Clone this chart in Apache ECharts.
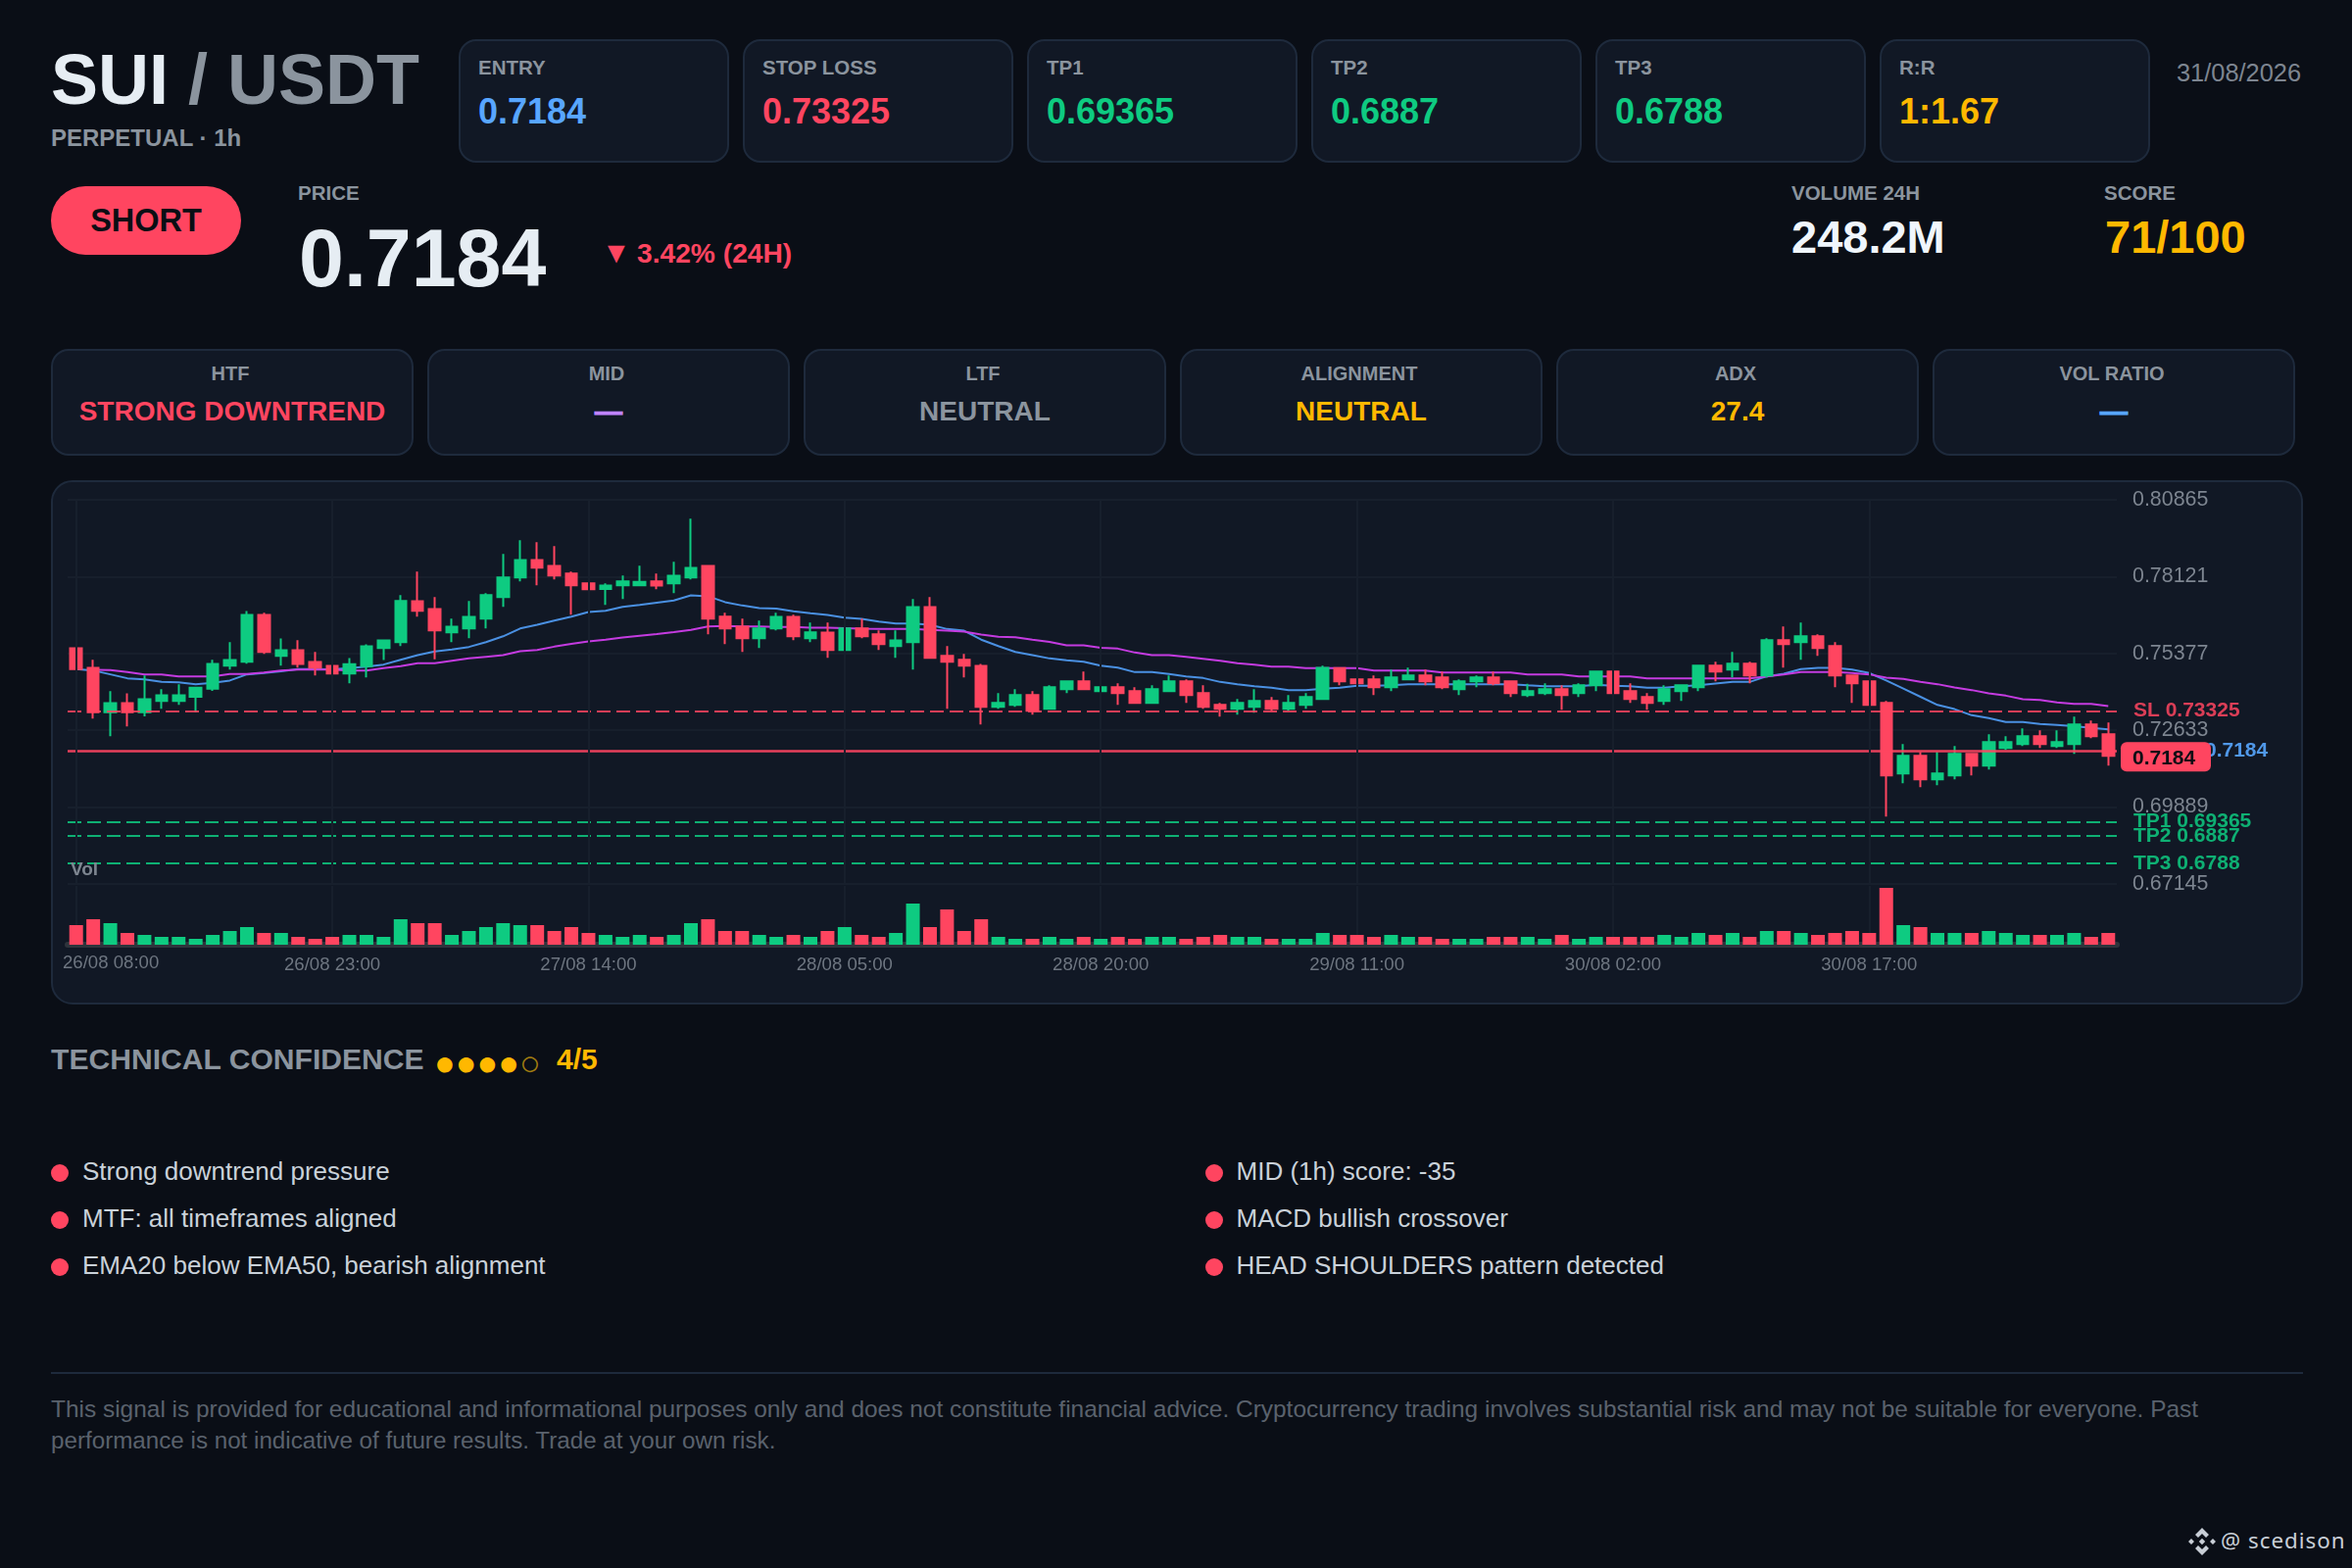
<!DOCTYPE html>
<html><head><meta charset="utf-8">
<script src="https://cdn.jsdelivr.net/npm/echarts@6/dist/echarts.min.js"></script>
<style>
html,body{margin:0;padding:0;width:2400px;height:1600px;background:#0a0e16;overflow:hidden;font-family:"Liberation Sans",Arial,sans-serif}
.t{position:absolute;line-height:1;white-space:nowrap}
.b{font-weight:700}
.card{position:absolute;box-sizing:border-box;background:#111825;border:2px solid #1e2a3c;border-radius:18px}
.lab{font-size:20.5px;font-weight:700;color:#8b949e}
.val{font-size:36px;font-weight:700}
.tl{font-size:20px;font-weight:700;color:#8b949e;text-align:center;width:366px}
.tv{font-size:28px;font-weight:700;text-align:center;width:370px}
.dot{position:absolute;width:18px;height:18px;border-radius:50%;background:#ff4560}
.bt{font-size:26px;color:#c9d1d9}
#chart{position:absolute;left:0;top:0;width:2400px;height:1600px}
</style></head><body>
<div class="card" style="left:52px;top:490px;width:2298px;height:535px;border-radius:22px"></div>
<div id="hdr"></div>
<div id="chart"></div>
<script>
const tickLabels=['26/08 08:00','26/08 23:00','27/08 14:00','28/08 05:00','28/08 20:00','29/08 11:00','30/08 02:00','30/08 17:00'];
const opens=[.7556,.7486,.7328,.7360,.7328,.7368,.7368,.7383,.7412,.7494,
.7508,.7675,.7529,.7549,.7507,.7493,.7466,.7492,.7557,.7578,
.7724,.7696,.7613,.7627,.7662,.7739,.7809,.7871,.7850,.7823,
.7788,.7768,.7781,.7781,.7795,.7788,.7809,.7850,.7669,.7633,
.7592,.7627,.7668,.7592,.7612,.7550,.7627,.7606,.7564,.7578,
.7703,.7529,.7515,.7493,.7347,.7354,.7389,.7340,.7410,.7438,
.7403,.7417,.7403,.7361,.7403,.7438,.7396,.7354,.7340,.7347,
.7368,.7340,.7354,.7375,.7485,.7445,.7445,.7417,.7445,.7459,
.7452,.7410,.7438,.7452,.7438,.7389,.7396,.7410,.7396,.7424,
.7473,.7403,.7382,.7368,.7403,.7417,.7494,.7480,.7501,.7459,
.7585,.7578,.7599,.7564,.7459,.7438,.7361,.7109,.7172,.7088,
.7102,.7179,.7137,.7200,.7214,.7242,.7207,.7214,.7284,.7249];
const closes=[.7482,.7328,.7360,.7328,.7374,.7388,.7388,.7415,.7500,.7514,
.7675,.7543,.7549,.7500,.7487,.7466,.7499,.7563,.7584,.7725,
.7690,.7620,.7633,.7668,.7746,.7809,.7871,.7844,.7816,.7781,
.7767,.7780,.7795,.7793,.7780,.7815,.7843,.7662,.7627,.7592,
.7627,.7668,.7599,.7613,.7550,.7627,.7599,.7571,.7584,.7703,
.7522,.7508,.7494,.7347,.7361,.7389,.7333,.7417,.7438,.7410,
.7417,.7396,.7361,.7410,.7438,.7389,.7347,.7340,.7361,.7368,
.7340,.7361,.7382,.7486,.7438,.7431,.7417,.7452,.7459,.7438,
.7417,.7438,.7452,.7431,.7396,.7403,.7410,.7389,.7424,.7473,
.7396,.7375,.7361,.7410,.7424,.7494,.7473,.7501,.7459,.7585,
.7571,.7599,.7557,.7459,.7431,.7354,.7102,.7172,.7088,.7109,
.7179,.7137,.7221,.7221,.7242,.7214,.7221,.7284,.7242,.7172];
const lows=[.7482,.7305,.7242,.7277,.7313,.7340,.7354,.7328,.7404,.7480,
.7501,.7536,.7494,.7487,.7459,.7466,.7431,.7452,.7514,.7564,
.7669,.7517,.7578,.7592,.7627,.7704,.7795,.7781,.7802,.7676,
.7767,.7711,.7732,.7781,.7767,.7753,.7802,.7606,.7571,.7543,
.7557,.7620,.7585,.7578,.7522,.7550,.7592,.7550,.7522,.7480,
.7522,.7340,.7452,.7284,.7340,.7347,.7319,.7340,.7396,.7410,
.7403,.7354,.7361,.7361,.7403,.7361,.7340,.7312,.7319,.7326,
.7333,.7333,.7340,.7375,.7424,.7431,.7389,.7403,.7445,.7424,
.7410,.7389,.7417,.7424,.7382,.7382,.7389,.7337,.7382,.7403,
.7396,.7361,.7337,.7354,.7368,.7403,.7438,.7452,.7431,.7452,
.7487,.7515,.7529,.7417,.7361,.7354,.6955,.7074,.7060,.7067,
.7088,.7102,.7123,.7193,.7207,.7200,.7200,.7179,.7235,.7137];
const highs=[.7556,.7515,.7403,.7395,.7459,.7410,.7428,.7415,.7515,.7578,
.7689,.7683,.7591,.7585,.7543,.7493,.7521,.7570,.7584,.7746,
.7830,.7739,.7662,.7725,.7753,.7893,.7942,.7935,.7921,.7830,
.7788,.7788,.7816,.7851,.7823,.7865,.8019,.7850,.7683,.7662,
.7655,.7683,.7676,.7648,.7648,.7627,.7662,.7620,.7620,.7732,
.7739,.7564,.7536,.7500,.7396,.7410,.7403,.7424,.7438,.7473,
.7417,.7431,.7417,.7424,.7459,.7445,.7424,.7361,.7375,.7410,
.7382,.7389,.7396,.7494,.7485,.7445,.7459,.7480,.7487,.7480,
.7473,.7445,.7459,.7473,.7438,.7429,.7431,.7424,.7431,.7473,
.7473,.7431,.7396,.7424,.7424,.7494,.7508,.7543,.7508,.7592,
.7634,.7648,.7606,.7578,.7459,.7438,.7368,.7214,.7186,.7186,
.7207,.7179,.7249,.7242,.7270,.7263,.7263,.7312,.7298,.7291];
const volumes=[10,13,11,6,5,4,4,3,5,7,9,6,6,4,3,4,5,5,4,13,
11,11,5,7,9,11,10,10,7,9,6,5,4,5,4,5,11,13,7,7,
5,4,5,4,7,9,5,4,6,21,9,18,7,13,4,3,3,4,3,4,
3,4,3,4,4,3,4,5,4,4,3,3,3,6,5,5,4,5,4,4,
3,3,3,4,4,4,3,5,3,4,4,4,4,5,4,6,5,6,4,7,
7,6,5,6,7,6,29,10,9,6,6,6,7,6,5,5,5,6,4,6];
const ema20=[.7482,.7477,.7463,.7449,.7445,.7436,.7435,.7428,.7433,.7441,
.7463,.7468,.7474,.7482,.7482,.7481,.7485,.7491,.7498,.7515,
.7532,.7545,.7552,.7561,.7578,.7599,.7627,.7640,.7655,.7669,
.7686,.7690,.7704,.7711,.7719,.7727,.7745,.7742,.7721,.7709,
.7700,.7698,.7688,.7681,.7675,.7666,.7661,.7652,.7645,.7645,
.7640,.7625,.7619,.7587,.7564,.7543,.7532,.7520,.7513,.7508,
.7494,.7487,.7471,.7471,.7464,.7456,.7450,.7436,.7428,.7421,
.7415,.7407,.7407,.7412,.7415,.7422,.7422,.7424,.7428,.7428,
.7428,.7428,.7428,.7428,.7428,.7424,.7421,.7421,.7421,.7426,
.7422,.7421,.7415,.7415,.7421,.7424,.7430,.7436,.7436,.7456,
.7465,.7482,.7486,.7486,.7480,.7468,.7441,.7412,.7383,.7354,
.7339,.7317,.7307,.7293,.7293,.7286,.7282,.7278,.7272,.7267];
const ema50=[null,.7479,.7478,.7471,.7463,.7463,.7456,.7456,.7456,.7464,
.7464,.7470,.7477,.7480,.7480,.7480,.7477,.7477,.7485,.7492,
.7503,.7503,.7512,.7520,.7526,.7532,.7546,.7550,.7562,.7572,
.7581,.7587,.7595,.7601,.7607,.7614,.7622,.7634,.7636,.7634,
.7634,.7632,.7632,.7630,.7630,.7628,.7626,.7625,.7625,.7625,
.7622,.7619,.7616,.7605,.7597,.7596,.7587,.7579,.7567,.7567,
.7558,.7555,.7541,.7532,.7532,.7526,.7519,.7512,.7503,.7498,
.7491,.7491,.7485,.7485,.7485,.7485,.7477,.7477,.7477,.7477,
.7470,.7470,.7470,.7470,.7470,.7463,.7463,.7463,.7456,.7456,
.7456,.7456,.7449,.7449,.7449,.7449,.7449,.7449,.7449,.7456,
.7463,.7471,.7471,.7471,.7468,.7463,.7451,.7447,.7436,.7428,
.7416,.7407,.7395,.7387,.7374,.7372,.7363,.7358,.7358,.7350];
const entry=0.7184, lastPrice=0.719, stopLoss=0.73325, tp1=0.69365, tp2=0.6887, tp3=0.6788;
const yMin=0.67145, yMax=0.80865, yStep=0.02744;

const RED='#ff4560',GREEN='#0ecb81',BLUE='#58a6ff',GOLD='#ffb800',GRAY='#8b949e',PURPLE='#c43be0',LBLUE='#4a90e2';
const stats=[['ENTRY','0.7184',BLUE],['STOP LOSS','0.73325',RED],['TP1','0.69365',GREEN],['TP2','0.6887',GREEN],['TP3','0.6788',GREEN],['R:R','1:1.67',GOLD]];
const trends=[['HTF','STRONG DOWNTREND',RED],['MID','—','#c084fc'],['LTF','NEUTRAL',GRAY],['ALIGNMENT','NEUTRAL',GOLD],['ADX','27.4',GOLD],['VOL RATIO','—',BLUE]];
const bulletsLeft=['Strong downtrend pressure','MTF: all timeframes aligned','EMA20 below EMA50, bearish alignment'];
const bulletsRight=['MID (1h) score: -35','MACD bullish crossover','HEAD SHOULDERS pattern detected'];
let h='';
const T=(x,y,cls,style,txt)=>`<div class="t ${cls}" style="left:${x}px;top:${y}px;${style}">${txt}</div>`;
h+=T(52,45,'b','font-size:72px;color:#e6edf3','SUI <span style="color:#8b949e">/ USDT</span>');
h+=T(52,129,'b','font-size:24px;color:#8b949e','PERPETUAL · 1h');
stats.forEach((s,i)=>{const x=468+290*i;
 h+=`<div class="card" style="left:${x}px;top:40px;width:276px;height:126px"></div>`;
 h+=T(x+20,59,'lab','',s[0]);h+=T(x+20,95.5,'val','color:'+s[2],s[1]);});
h+=T(2221,62,'','font-size:25.4px;color:#7d8590','31/08/2026');
h+=`<div class="t b" style="left:52px;top:190px;width:194px;height:70px;border-radius:35px;background:${RED};color:#0a0e14;font-size:32.5px;line-height:70px;text-align:center">SHORT</div>`;
h+=T(304,187,'lab','','PRICE');
h+=T(305,222,'b','font-size:82.5px;color:#e6edf3','0.7184');
h+=T(614,243,'b','font-size:30px;color:'+RED,'▼');
h+=T(650,244,'b','font-size:28.2px;color:'+RED,'3.42% (24H)');
h+=T(1828,187,'lab','','VOLUME 24H');
h+=T(1828,218,'b','font-size:47px;color:#f0f6fc','248.2M');
h+=T(2147,187,'lab','','SCORE');
h+=T(2148,218,'b','font-size:47px;color:'+GOLD,'71/100');
trends.forEach((s,i)=>{const x=52+384*i;
 h+=`<div class="card" style="left:${x}px;top:356px;width:370px;height:109px"></div>`;
 h+=T(x,371,'tl','',s[0]);
 h+=T(x,406,'tv','color:'+s[2]+(s[1]==='—'?';-webkit-text-stroke:1.2px '+s[2]:''),s[1]);});
h+=T(52,1066,'b','font-size:30.1px;color:#8b949e','TECHNICAL CONFIDENCE');
h+=T(443,1067,'','font-size:36px;color:'+GOLD,'●●●●<span style="color:#a07c10">○</span>');
h+=T(568,1066,'b','font-size:30px;color:'+GOLD,'4/5');
[[bulletsLeft,52,84],[bulletsRight,1230,1261.5]].forEach(([arr,dx,tx])=>arr.forEach((s,i)=>{const y=1197+48*i;
 h+=`<div class="dot" style="left:${dx}px;top:${y-9}px"></div>`;
 h+=T(tx,y-15.5,'bt','',s);}));
h+=`<div style="position:absolute;left:52px;top:1400px;width:2298px;height:2px;background:#1e2a3c"></div>`;
h+=T(52,1425.5,'','font-size:24.45px;color:#5a626d','This signal is provided for educational and informational purposes only and does not constitute financial advice. Cryptocurrency trading involves substantial risk and may not be suitable for everyone. Past');
h+=T(52,1457.5,'','font-size:24.2px;color:#5a626d','performance is not indicative of future results. Trade at your own risk.');
h+=`<svg style="position:absolute;left:2233px;top:1559px" width="28" height="28" viewBox="0 0 28 28" fill="#c8ced6"><path d="M14 0l7 7-3 3-4-4-4 4-3-3zM14 28l7-7-3-3-4 4-4-4-3 3zM14 10.8l3.2 3.2-3.2 3.2-3.2-3.2zM0 14l3-3 3 3-3 3zM22 14l3-3 3 3-3 3z"/></svg>`;
h+=T(2266,1561,'','font-family:\'Noto Sans\';font-size:22.4px;color:#c8ced6;letter-spacing:1px','@ scedison');
document.getElementById('hdr').innerHTML=h;

const categories=opens.map((_,i)=>i%15===0?tickLabels[i/15]:'h'+i);
const candles=opens.map((o,i)=>[o,closes[i],lows[i],highs[i]]);
const volBars=volumes.map((v,i)=>({value:v,itemStyle:{color:closes[i]>=opens[i]?GREEN:RED}}));
const dashed=(v,c,txt)=>({yAxis:v,lineStyle:{color:c,type:[14,6],width:2,opacity:.85},
  label:{show:true,position:'end',distance:17,formatter:txt,color:c,fontSize:21,fontWeight:'bold',padding:[0,0,4,0]}});
const FONT='"Liberation Sans",Arial,sans-serif';
const GRID='#171f2c';
const chart=echarts.init(document.getElementById('chart'),null,{width:2400,height:1600});
chart.setOption({
 animation:false,backgroundColor:'transparent',textStyle:{fontFamily:FONT},
 axisPointer:{show:false},
 grid:[{left:69,right:240,top:510,height:392},{left:69,right:240,top:904,height:60}],
 xAxis:[
  {type:'category',gridIndex:0,data:categories,z:10,axisLine:{show:false},axisTick:{show:false},axisLabel:{show:false},
   splitLine:{show:true,alignWithLabel:true,interval:14,lineStyle:{color:GRID,width:2}}},
  {type:'category',gridIndex:1,data:categories,offset:5,axisLine:{show:true,lineStyle:{color:'#2e343c',width:6}},axisTick:{show:false},
   axisLabel:{interval:14,color:'#6e7681',fontSize:18.6,margin:6,formatter:v=>v===tickLabels[0]?'':v},
   splitLine:{show:true,alignWithLabel:true,interval:14,lineStyle:{color:GRID,width:2}}}
 ],
 yAxis:[
  {type:'value',gridIndex:0,position:'right',min:yMin,max:yMax,interval:yStep,axisLine:{show:false},axisTick:{show:false},
   axisLabel:{color:'#7d8590',fontSize:21.4,margin:16,padding:[9,0,0,0],formatter:v=>v.toFixed(5)},splitLine:{show:true,lineStyle:{color:GRID,width:2}}},
  {type:'value',gridIndex:1,min:0,max:30,show:false,splitLine:{show:false}}
 ],
 series:[
  {name:'EMA20',type:'line',data:ema20,showSymbol:false,z:2,lineStyle:{color:LBLUE,width:2},itemStyle:{color:LBLUE}},
  {name:'EMA50',type:'line',data:ema50,showSymbol:false,z:2,lineStyle:{color:PURPLE,width:2},itemStyle:{color:PURPLE}},
  {name:'Price',type:'candlestick',data:candles,z:3,barWidth:12,
   itemStyle:{color:GREEN,color0:RED,borderColor:GREEN,borderColor0:RED,borderWidth:2},
   markLine:{silent:true,symbol:'none',z:5,animation:false,precision:5,data:[
     dashed(stopLoss,'#ff4560','SL 0.73325'),
     dashed(tp1,'#0ecb81','TP1 0.69365'),
     dashed(tp2,'#0ecb81','TP2 0.6887'),
     dashed(tp3,'#0ecb81','TP3 0.6788'),
     {yAxis:lastPrice,lineStyle:{color:'#ff4560',type:'solid',width:2.5,opacity:.9},
      label:{show:true,position:'end',distance:90,formatter:String(entry),color:BLUE,fontSize:21,fontWeight:'bold'}}
   ]}},
  {name:'Vol',type:'bar',xAxisIndex:1,yAxisIndex:1,data:volBars,barWidth:14}
 ]
});
const py=chart.convertToPixel({yAxisIndex:0},lastPrice);
chart.setOption({graphic:[
 {type:'rect',z:20,shape:{x:2164,y:py-9,width:92,height:30,r:6},style:{fill:RED}},
 {type:'text',z:21,x:2176,y:py+8,style:{text:String(entry),fill:'#0a0e14',font:'bold 21px '+FONT,textVerticalAlign:'middle'}},
 {type:'text',z:21,x:72,y:888,style:{text:'Vol',fill:'#7d8590',font:'bold 19px '+FONT,textVerticalAlign:'middle'}},
 {type:'text',z:21,x:64,y:983,style:{text:tickLabels[0],fill:'#6e7681',font:'18.6px '+FONT,textVerticalAlign:'middle'}}
]});
</script>
</body></html>
